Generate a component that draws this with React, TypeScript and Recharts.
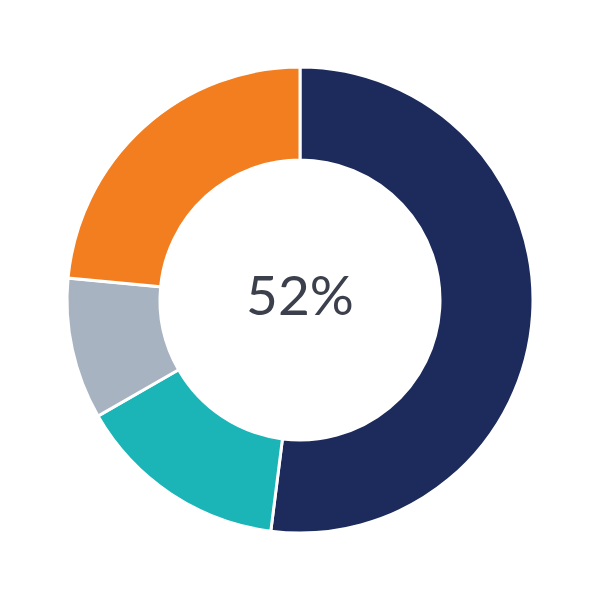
import React from 'react';
import { PieChart, Pie, Cell } from 'recharts';

const segments = ['Primary', 'Teal', 'Gray', 'Orange'];
const shares = [52, 14.7, 9.8, 23.5];
const colors = ['#1c2b5b', '#1bb4b7', '#a8b3c2', '#f27e20'];
const centerLabel = '52%';

const data = segments.map((name, i) => ({ name, value: shares[i] }));

export default function App() {
  return (
    <div style={{ width: 600, height: 600, background: '#ffffff' }}>
      <style>{`body { margin: 0; }`}</style>
      <PieChart width={600} height={600} margin={{ top: 0, right: 0, bottom: 0, left: 0 }}>
        <Pie
          data={data}
          dataKey="value"
          cx={300}
          cy={300}
          innerRadius={140}
          outerRadius={233}
          startAngle={90}
          endAngle={-270}
          stroke="#ffffff"
          strokeWidth={3}
          isAnimationActive={false}
        >
          {data.map((entry, index) => (
            <Cell key={`cell-${index}`} fill={colors[index]} />
          ))}
        </Pie>
        <text
          x={300}
          y={315}
          textAnchor="middle"
          fill="#3b404c"
          fontFamily="Lato, sans-serif"
          fontSize={55}
        >
          {centerLabel}
        </text>
      </PieChart>
    </div>
  );
}
